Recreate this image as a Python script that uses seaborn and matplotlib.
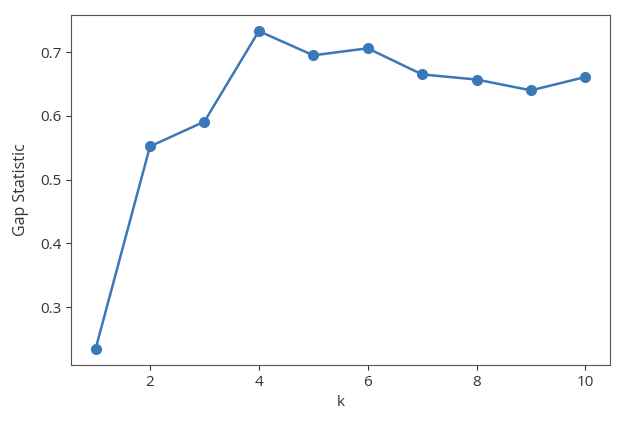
import numpy as np
import pandas as pd
import seaborn as sns
import matplotlib

matplotlib.use("Agg")
import matplotlib.pyplot as plt

# gap statistic for each number of clusters
k_values = [1, 2, 3, 4, 5, 6, 7, 8, 9, 10]
gap_values = [0.234, 0.552, 0.591, 0.733, 0.695, 0.706, 0.665, 0.657, 0.640, 0.661]

df = pd.DataFrame({"k": k_values, "Gap Statistic": gap_values})

sns.set_style("ticks")
plt.rcParams["font.family"] = ["Open Sans", "DejaVu Sans"]

fig = plt.figure(figsize=(6.4, 4.22), dpi=100)
ax = fig.add_axes([0.111, 0.135, 0.842, 0.829])
sns.lineplot(
    data=df,
    x="k",
    y="Gap Statistic",
    marker="o",
    markersize=8,
    markeredgewidth=0,
    color="#3a78b8",
    linewidth=1.8,
    ax=ax,
)
ax.set_xticks([2, 4, 6, 8, 10])
ax.set_yticks([0.3, 0.4, 0.5, 0.6, 0.7])
ax.tick_params(labelsize=11, colors="#333333")
for s in ax.spines.values():
    s.set_color("#555555")
ax.set_xlabel("k", fontsize=11, color="#333333")
ax.set_ylabel("Gap Statistic", fontsize=11.5, color="#333333", labelpad=8)

fig.savefig("out.png", dpi=100)
